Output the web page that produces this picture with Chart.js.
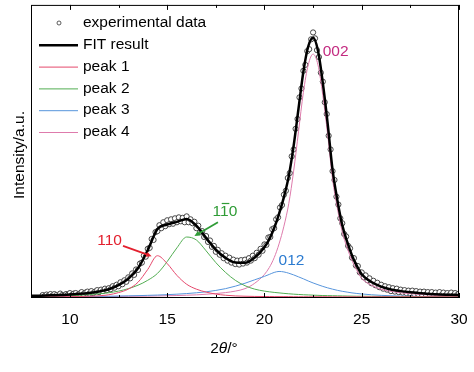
<!DOCTYPE html>
<html>
<head>
<meta charset="utf-8">
<title>XRD peak fit</title>
<script src="https://cdn.jsdelivr.net/npm/chart.js@4.4.0/dist/chart.umd.min.js"></script>
<style>
  html, body { margin: 0; padding: 0; background: #fff; }
  #chart { display: block; }
</style>
</head>
<body>
<canvas id="chart" width="474" height="372"></canvas>
<script>
// 2theta (deg) where the fitted curves are read
var angles = [8, 8.5, 9, 9.5, 10, 10.5, 11, 11.5, 12, 12.5, 13, 13.5, 14, 14.5, 15, 15.5, 16, 16.5, 17, 17.5, 18, 18.5, 19, 19.5, 20,
	20.25, 20.5, 20.75, 21, 21.25, 21.5, 21.75, 22, 22.25, 22.5, 22.75, 23, 23.25, 23.5, 23.75, 24, 24.25, 24.5, 24.75, 25,
	25.5, 26, 26.5, 27, 27.5, 28, 28.5, 29, 29.5, 30];

var fitResult = [1.2, 1.4, 1.8, 2.0, 2.6, 3.2, 4.2, 5.7, 7.9, 12.1, 18.4, 29.2, 47.6, 69.1, 73.7, 76.4, 79.3, 72.5, 60.1, 48.2, 39.8, 35.1, 34.8, 40.1, 50.5,
	58.8, 70.1, 84.6, 101.6, 122.9, 153.7, 191.4, 229.1, 254.7, 263.5, 250.5, 217.6, 176, 129.5, 98.2, 73.1, 56.2, 42.3, 31.6, 23.1,
	15.2, 10.5, 7.7, 6, 4.8, 3.9, 3.1, 2.6, 2.3, 2.0];

var peak1 = [0.2, 0.2, 0.3, 0.3, 0.4, 0.5, 0.7, 1.2, 2.3, 4.5, 8, 15, 28, 42, 34, 22, 13, 8, 5, 3, 1.8, 1.1, 0.8, 0.6, 0.5,
	0.5, 0.4, 0.4, 0.4, 0.4, 0.3, 0.3, 0.3, 0.3, 0.3, 0.3, 0.3, 0.3, 0.2, 0.2, 0.2, 0.2, 0.2, 0.2, 0.2,
	0.2, 0.2, 0.2, 0.2, 0.2, 0.2, 0.2, 0.2, 0.2, 0.2];

var peak2 = [0.5, 0.7, 0.9, 1.1, 1.4, 1.8, 2.5, 3.3, 4.3, 6, 8.5, 12, 17, 24, 36, 50, 61, 58, 47, 35, 25, 17, 11.5, 8, 6,
	5.3, 4.7, 4.2, 3.7, 3.3, 2.9, 2.6, 2.3, 2.1, 1.9, 1.7, 1.5, 1.4, 1.3, 1.2, 1.1, 1.0, 0.9, 0.8, 0.8,
	0.7, 0.6, 0.5, 0.5, 0.4, 0.4, 0.3, 0.3, 0.3, 0.3];

var peak3 = [0.2, 0.2, 0.3, 0.3, 0.4, 0.5, 0.6, 0.7, 0.8, 1, 1.2, 1.4, 1.7, 2, 2.4, 2.9, 3.5, 4.3, 5.3, 6.7, 8.5, 11, 14, 17.5, 21,
	23, 25, 26, 25.5, 24.2, 22.5, 20.5, 18.5, 16.3, 14.3, 12.5, 10.8, 9.3, 8, 6.8, 5.8, 5, 4.2, 3.6, 3.1,
	2.3, 1.7, 1.3, 1, 0.8, 0.6, 0.5, 0.4, 0.4, 0.3];

var peak4 = [0.3, 0.3, 0.3, 0.3, 0.35, 0.4, 0.4, 0.45, 0.5, 0.6, 0.7, 0.8, 0.9, 1.1, 1.3, 1.5, 1.8, 2.2, 2.8, 3.5, 4.5, 6, 8.5, 14, 23,
	30, 40, 54, 72, 95, 128, 168, 208, 236, 247, 236, 205, 165, 120, 90, 66, 50, 37, 27, 19,
	12, 8, 5.7, 4.3, 3.4, 2.7, 2.1, 1.7, 1.4, 1.2];

// measured points
var expAngles = [8.6, 8.7, 8.8, 8.9, 9.0,
	9.1, 9.2, 9.3, 9.4, 9.5, 9.6, 9.7, 9.8, 9.9, 10.0,
	10.1, 10.2, 10.3, 10.4, 10.5, 10.6, 10.7, 10.8, 10.9, 11.0,
	11.1, 11.2, 11.3, 11.4, 11.5, 11.6, 11.7, 11.8, 11.9, 12.0,
	12.1, 12.2, 12.3, 12.4, 12.5, 12.6, 12.7, 12.8, 12.9, 13.0,
	13.1, 13.2, 13.3, 13.4, 13.5, 13.6, 13.7, 13.8, 13.9, 14.0,
	14.1, 14.2, 14.3, 14.4, 14.5, 14.6, 14.7, 14.8, 14.9, 15.0,
	15.1, 15.2, 15.3, 15.4, 15.5, 15.6, 15.7, 15.8, 15.9, 16.0,
	16.1, 16.2, 16.3, 16.4, 16.5, 16.6, 16.7, 16.8, 16.9, 17.0,
	17.1, 17.2, 17.3, 17.4, 17.5, 17.6, 17.7, 17.8, 17.9, 18.0,
	18.1, 18.2, 18.3, 18.4, 18.5, 18.6, 18.7, 18.8, 18.9, 19.0,
	19.1, 19.2, 19.3, 19.4, 19.5, 19.6, 19.7, 19.8, 19.9, 20.0,
	20.1, 20.2, 20.3, 20.4, 20.5, 20.6, 20.7, 20.8, 20.9, 21.0,
	21.1, 21.2, 21.3, 21.4, 21.5, 21.6, 21.7, 21.8, 21.9, 22.0,
	22.1, 22.2, 22.3, 22.4, 22.5, 22.6, 22.7, 22.8, 22.9, 23.0,
	23.1, 23.2, 23.3, 23.4, 23.5, 23.6, 23.7, 23.8, 23.9, 24.0,
	24.1, 24.2, 24.3, 24.4, 24.5, 24.6, 24.7, 24.8, 24.9, 25.0,
	25.1, 25.2, 25.3, 25.4, 25.5, 25.6, 25.7, 25.8, 25.9, 26.0,
	26.1, 26.2, 26.3, 26.4, 26.5, 26.6, 26.7, 26.8, 26.9, 27.0,
	27.1, 27.2, 27.3, 27.4, 27.5, 27.6, 27.7, 27.8, 27.9, 28.0,
	28.1, 28.2, 28.3, 28.4, 28.5, 28.6, 28.7, 28.8, 28.9, 29.0,
	29.1, 29.2, 29.3, 29.4, 29.5, 29.6, 29.7, 29.8, 29.9, 30.0];

var expIntensity = [2, 1, 2.5, 1.5, 3,
	1.5, 3, 2, 1, 3.5, 2, 1.5, 3, 2.5, 4,
	2, 3.5, 4, 2, 3.5, 5, 3, 4.5, 5.5, 3.5,
	6, 4, 5.5, 7, 5, 7.5, 6, 8.5, 7, 9,
	8, 11, 9.5, 12.5, 11, 15, 13, 17, 15.5, 20,
	19, 24, 22.5, 28, 27.5, 34, 35, 42, 41, 49,
	50, 59, 58, 66, 67, 73, 70, 76, 72, 78,
	74, 79, 74.5, 80, 76, 81, 77, 80.5, 76, 82,
	76, 79, 75, 76.5, 70, 72.5, 66, 67, 61, 62,
	56, 57.5, 51, 52, 46, 48, 43, 44.5, 39.5, 42,
	37, 40, 35, 38, 33.5, 37, 33, 37.5, 34, 38,
	35, 39.5, 37, 42, 39.5, 45, 43, 49, 47, 53.5,
	53, 60.5, 61, 69, 70, 79, 81, 91, 93.5, 104,
	108, 121, 126, 143, 150, 171, 181, 203, 212, 230,
	236, 250, 252, 262, 269, 263, 251, 244, 228, 219,
	198, 186, 164, 150, 128, 119, 102, 94, 80, 75,
	64, 61.5, 52, 49.5, 40, 39.5, 32, 31.5, 25, 25,
	20, 22, 17, 19, 14, 16.5, 12, 14.5, 10, 12.5,
	8.5, 11, 7.5, 10, 6, 9, 5.5, 8.5, 5, 7.5,
	4.5, 7, 4, 6.5, 3.5, 6.5, 3, 6, 3, 5.5,
	2.5, 5.5, 2.5, 5, 2, 5, 2, 4.5, 1.5, 5,
	2, 4.5, 1.5, 4, 2, 4.5, 1.5, 4, 2, 3.5];

var xTicks = [10, 15, 20, 25, 30];

var font = "'Liberation Sans', Arial, Helvetica, sans-serif";
var color = {
	fit: "#000000",
	points: "#333333",
	red: "#e5486c",
	green: "#52ad52",
	blue: "#5795dc",
	pink: "#de7bac",
	redText: "#e3202e",
	greenText: "#2f9c36",
	blueText: "#2b7bd0",
	pinkText: "#c32a80"
};

function toPoints(xs, ys) {
	return xs.map(function (x, i) {
		return { x: x, y: ys[i] };
	});
}

function lineSet(label, ys, col, width, order) {
	return {
		label: label,
		data: toPoints(angles, ys),
		showLine: true,
		borderColor: col,
		borderWidth: width,
		pointRadius: 0,
		cubicInterpolationMode: "monotone",
		order: order
	};
}

function arrow(ctx, x1, y1, x2, y2, col) {
	var a = Math.atan2(y2 - y1, x2 - x1);
	var len = 6;
	ctx.strokeStyle = col;
	ctx.fillStyle = col;
	ctx.lineWidth = 1.8;
	ctx.beginPath();
	ctx.moveTo(x1, y1);
	ctx.lineTo(x2 - 3 * Math.cos(a), y2 - 3 * Math.sin(a));
	ctx.stroke();
	ctx.beginPath();
	ctx.moveTo(x2, y2);
	ctx.lineTo(x2 - len * Math.cos(a - 0.45), y2 - len * Math.sin(a - 0.45));
	ctx.lineTo(x2 - len * Math.cos(a + 0.45), y2 - len * Math.sin(a + 0.45));
	ctx.closePath();
	ctx.fill();
}

// frame, inward ticks, axis titles, legend and peak labels
var decorations = {
	id: "decorations",
	afterDatasetsDraw: function (chart) {
		var ctx = chart.ctx;
		var area = chart.chartArea;
		var xs = chart.scales.x;
		var ys = chart.scales.y;
		var X = function (v) { return xs.getPixelForValue(v); };
		var Y = function (v) { return ys.getPixelForValue(v); };

		ctx.save();
		ctx.strokeStyle = "#000";
		ctx.lineWidth = 1;
		ctx.strokeRect(area.left + 0.5, area.top + 0.5, area.right - area.left - 1, area.bottom - area.top - 1);

		function tick(v, len) {
			var px = Math.round(X(v)) + 0.5;
			ctx.beginPath();
			ctx.moveTo(px, area.bottom);
			ctx.lineTo(px, area.bottom - len);
			ctx.moveTo(px, area.top);
			ctx.lineTo(px, area.top + len);
			ctx.stroke();
		}
		xTicks.forEach(function (v, i) {
			tick(v, 5);
			if (i > 0) tick((xTicks[i - 1] + v) / 2, 3);
		});

		// axis titles
		ctx.fillStyle = "#000";
		ctx.textBaseline = "alphabetic";
		ctx.textAlign = "left";
		ctx.font = "15.5px " + font;
		var w2 = ctx.measureText("2").width;
		ctx.font = "italic 15.5px " + font;
		var wt = ctx.measureText("\u03b8").width;
		ctx.font = "15.5px " + font;
		var wr = ctx.measureText("/\u00b0").width;
		var sx = 224 - (w2 + wt + wr) / 2;
		ctx.fillText("2", sx, 353);
		ctx.font = "italic 15.5px " + font;
		ctx.fillText("\u03b8", sx + w2, 353);
		ctx.font = "15.5px " + font;
		ctx.fillText("/\u00b0", sx + w2 + wt, 353);

		ctx.save();
		ctx.translate(23.5, 155);
		ctx.rotate(-Math.PI / 2);
		ctx.textAlign = "center";
		ctx.fillText("Intensity/a.u.", 0, 0);
		ctx.restore();

		// legend
		ctx.textBaseline = "middle";
		ctx.textAlign = "left";
		chart.data.datasets.forEach(function (d, i) {
			var y = 23 + i * 21.8;
			if (d.showLine) {
				ctx.strokeStyle = d.borderColor;
				ctx.lineWidth = d.borderWidth;
				ctx.beginPath();
				ctx.moveTo(39, y + 0.5);
				ctx.lineTo(78, y + 0.5);
				ctx.stroke();
			} else {
				ctx.strokeStyle = d.pointBorderColor;
				ctx.lineWidth = 0.8;
				ctx.beginPath();
				ctx.arc(59, y, 2, 0, Math.PI * 2);
				ctx.stroke();
			}
			ctx.fillStyle = "#000";
			ctx.fillText(d.label, 83, y);
		});

		// peak labels
		ctx.textAlign = "center";
		ctx.textBaseline = "alphabetic";
		ctx.fillStyle = color.redText;
		ctx.fillText("110", X(12.04), 245);
		arrow(ctx, X(12.73), Y(52), X(14.2), Y(41.5), color.redText);

		ctx.fillStyle = color.greenText;
		var gx = X(17.97);
		ctx.fillText("110", gx, 216);
		var w3 = ctx.measureText("110").width;
		var w1 = ctx.measureText("1").width;
		ctx.strokeStyle = color.greenText;
		ctx.lineWidth = 1.2;
		ctx.beginPath();
		ctx.moveTo(gx - w3 / 2 + w1 + 0.5, 203.5);
		ctx.lineTo(gx - w3 / 2 + 2 * w1 - 0.5, 203.5);
		ctx.stroke();
		arrow(ctx, X(17.61), Y(76), X(16.4), Y(62), color.greenText);

		ctx.fillStyle = color.blueText;
		ctx.fillText("012", X(21.39), 264.5);

		ctx.fillStyle = color.pinkText;
		ctx.fillText("002", X(23.66), 55.8);
		ctx.restore();
	}
};

var chart = new Chart(document.getElementById("chart"), {
	type: "scatter",
	data: {
		datasets: [
			{
				label: "experimental data",
				data: toPoints(expAngles, expIntensity),
				showLine: false,
				pointRadius: 2.6,
				pointBorderWidth: 0.9,
				pointBorderColor: color.points,
				pointBackgroundColor: "#ffffff",
				order: 3
			},
			lineSet("FIT result", fitResult, color.fit, 2.5, 0),
			lineSet("peak 1", peak1, color.red, 1, 1),
			lineSet("peak 2", peak2, color.green, 1, 1),
			lineSet("peak 3", peak3, color.blue, 1, 1),
			lineSet("peak 4", peak4, color.pink, 1, 1)
		]
	},
	options: {
		responsive: false,
		animation: false,
		events: [],
		layout: { padding: { top: 0, right: 15, bottom: 0, left: 0 } },
		plugins: {
			legend: { display: false },
			tooltip: { enabled: false }
		},
		scales: {
			x: {
				type: "linear",
				min: 8,
				max: 30,
				grid: { display: false },
				border: { display: false },
				afterBuildTicks: function (scale) {
					scale.ticks = xTicks.map(function (v) { return { value: v }; });
				},
				afterFit: function (scale) { scale.height = 74; },
				ticks: {
					color: "#000",
					padding: 4,
					maxRotation: 0,
					font: { family: font, size: 15.5 }
				}
			},
			y: {
				min: -1,
				max: 297,
				grid: { display: false },
				border: { display: false },
				ticks: { display: false },
				afterFit: function (scale) { scale.width = 31; }
			}
		}
	},
	plugins: [decorations]
});
</script>
</body>
</html>
